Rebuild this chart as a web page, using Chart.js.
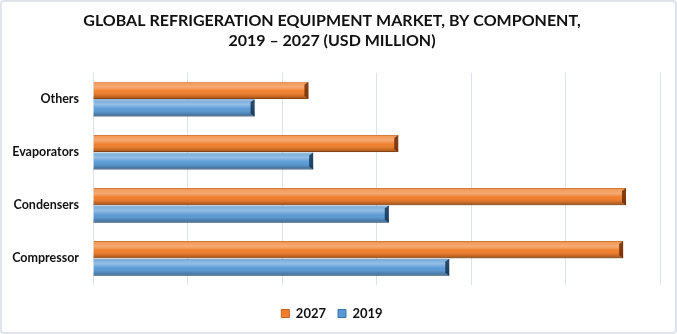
<!DOCTYPE html>
<html>
<head>
<meta charset="utf-8">
<script src="https://cdn.jsdelivr.net/npm/chart.js"></script>
<style>
  html, body { margin: 0; padding: 0; background: #ffffff; }
  #wrap {
    position: relative;
    width: 677px; height: 334px;
    box-sizing: border-box;
    border: 2px solid #dfe4ec;
    border-radius: 4px;
    overflow: hidden;
  }
  canvas { display: block; }
</style>
</head>
<body>
<div id="wrap"><canvas id="statsChart"></canvas></div>
<script>
// Data (USD million)
const categories = ['Others', 'Evaporators', 'Condensers', 'Compressor'];
const values2027 = [11400, 16150, 28200, 28050];
const values2019 = [8550, 11650, 15650, 18850];
const seriesLabels = ['2027', '2019'];

const orange = '#f07f2c';
const blue = '#5b9bd5';

// Give the bars a glossy, bevelled look
const bevelPlugin = {
    id: 'bevel',
    afterDatasetsDraw(chart) {
        const ctx = chart.ctx;
        chart.data.datasets.forEach((ds, i) => {
            const meta = chart.getDatasetMeta(i);
            const dark = i === 0 ? 'rgba(110,45,5,0.85)' : 'rgba(20,50,85,0.85)';
            meta.data.forEach(bar => {
                const left = Math.min(bar.x, bar.base);
                const right = Math.max(bar.x, bar.base);
                const top = bar.y - bar.height / 2;
                const h = bar.height;
                const g = ctx.createLinearGradient(0, top, 0, top + h);
                g.addColorStop(0, 'rgba(255,255,255,0.15)');
                g.addColorStop(0.3, 'rgba(255,255,255,0.35)');
                g.addColorStop(0.55, 'rgba(255,255,255,0.0)');
                g.addColorStop(0.8, 'rgba(0,0,0,0.12)');
                g.addColorStop(1, 'rgba(0,0,0,0.35)');
                ctx.save();
                ctx.fillStyle = g;
                ctx.fillRect(left, top, right - left, h);
                // end cap
                ctx.fillStyle = dark;
                ctx.beginPath();
                ctx.moveTo(right - 4, top + 3);
                ctx.lineTo(right, top);
                ctx.lineTo(right, top + h);
                ctx.lineTo(right - 4, top + h - 3);
                ctx.closePath();
                ctx.fill();
                ctx.restore();
            });
        });
    }
};

const ctx = document.getElementById('statsChart').getContext('2d');
new Chart(ctx, {
    type: 'bar',
    data: {
        labels: categories,
        datasets: [
            {
                label: seriesLabels[0],
                data: values2027,
                backgroundColor: orange,
                borderColor: '#c8621c',
                borderWidth: 1,
                categoryPercentage: 0.66,
                barPercentage: 0.98
            },
            {
                label: seriesLabels[1],
                data: values2019,
                backgroundColor: blue,
                borderColor: '#3a73aa',
                borderWidth: 1,
                categoryPercentage: 0.66,
                barPercentage: 0.98
            }
        ]
    },
    options: {
        indexAxis: 'y',
        responsive: true,
        maintainAspectRatio: false,
        animation: false,
        layout: { padding: { left: 2, right: 15, top: 4, bottom: 2 } },
        scales: {
            x: {
                min: 0,
                max: 30000,
                ticks: { display: false, stepSize: 5000 },
                grid: { color: '#dbe2ea', lineWidth: 1, drawTicks: false },
                border: { display: false },
                afterFit(scale) { scale.height = 10; }
            },
            y: {
                grid: { display: false },
                border: { display: false },
                ticks: {
                    color: '#111111',
                    font: { family: 'Lato', size: 12.5, weight: 'bold' },
                    padding: 6
                },
                afterFit(scale) { scale.width = 89; }
            }
        },
        plugins: {
            title: {
                display: true,
                text: ['GLOBAL REFRIGERATION EQUIPMENT MARKET, BY COMPONENT,', '2019 \u2013 2027 (USD MILLION)'],
                color: '#111111',
                font: { family: 'Lato', size: 16, weight: 'bold', lineHeight: 1.3 },
                padding: { top: 4, bottom: 21 }
            },
            legend: {
                position: 'bottom',
                labels: {
                    color: '#111111',
                    font: { family: 'Lato', size: 13, weight: 'bold' },
                    boxWidth: 8,
                    boxHeight: 8,
                    padding: 12
                }
            },
            tooltip: { enabled: false }
        }
    },
    plugins: [bevelPlugin]
});
</script>
</body>
</html>
